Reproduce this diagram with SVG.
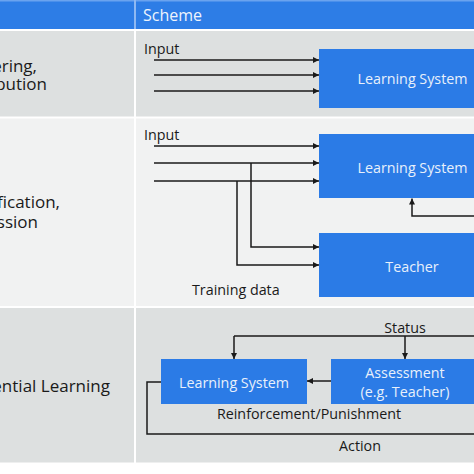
<svg xmlns="http://www.w3.org/2000/svg" width="474" height="474" viewBox="0 0 474 474">
<style>
text{font-family:"Open Sans","Noto Sans","DejaVu Sans",sans-serif;font-size:14.3px;fill:#1a1a1a}
.lc{font-size:17px;text-anchor:end}
.box{fill:#2b7be6}
.bt{fill:#e8f0fb;text-anchor:middle}
.ln{fill:none;stroke:#1a1a1a;stroke-width:1.5}
.ar{marker-end:url(#ah)}
.row1{fill:#dde0e0}
.row2{fill:#f1f2f2}
</style>
<defs>
<marker id="ah" viewBox="0 0 8 8" refX="8" refY="4" markerWidth="6" markerHeight="6" markerUnits="userSpaceOnUse" orient="auto">
<path d="M0,0L8,4L0,8Z" fill="#1a1a1a"/>
</marker>
</defs>
<rect x="0" y="0" width="474" height="474" fill="#ffffff"/>
<g id="table">
<rect x="0" y="0" width="474" height="29" fill="#2d7de6"/>
<rect x="0" y="0" width="474" height="1.5" fill="#6aa3ef"/>
<rect x="0" y="31" width="134" height="85.5" class="row1"/>
<rect x="136" y="31" width="338" height="85.5" class="row1"/>
<rect x="0" y="118.5" width="134" height="187.5" class="row2"/>
<rect x="136" y="118.5" width="338" height="187.5" class="row2"/>
<rect x="0" y="308" width="134" height="154.5" class="row1"/>
<rect x="136" y="308" width="338" height="154.5" class="row1"/>
<rect x="134" y="0" width="2" height="29" fill="#8fb9f2"/>
<text x="143" y="21" style="fill:#eef4fd;font-size:16px">Scheme</text>
<text class="lc" x="37" y="72">ering,</text>
<text class="lc" x="47" y="90">bution</text>
<text class="lc" x="60" y="208">fication,</text>
<text class="lc" x="38" y="228">ssion</text>
<text class="lc" x="110" y="391.5">ential Learning</text>
</g>
<g id="connectors">
<path class="ln ar" d="M154,60H319"/>
<path class="ln ar" d="M154,75H319"/>
<path class="ln ar" d="M154,91H319"/>
<path class="ln ar" d="M154,146H319"/>
<path class="ln ar" d="M154,163H319"/>
<path class="ln ar" d="M154,181H319"/>
<path class="ln ar" d="M251,163V247H319"/>
<path class="ln ar" d="M237,181V265H319"/>
<path class="ln ar" d="M474,216H412V198.5"/>
<path class="ln" d="M234,336H474"/>
<path class="ln ar" d="M234,336V359"/>
<path class="ln ar" d="M405,336V359"/>
<path class="ln ar" d="M331,381H307"/>
<path class="ln" d="M161,382H147V434H474"/>
</g>
<g id="labels">
<text x="144" y="54">Input</text>
<text x="144" y="140">Input</text>
<text x="192" y="294.5">Training data</text>
<text x="405" y="333" text-anchor="middle">Status</text>
<text x="309" y="419" text-anchor="middle">Reinforcement/Punishment</text>
<text x="360" y="450.5" text-anchor="middle">Action</text>
</g>
<g id="ls1">
<rect class="box" x="319" y="49" width="160" height="59"/>
<text class="bt" x="412.5" y="84">Learning System</text>
</g>
<g id="ls2">
<rect class="box" x="319" y="134" width="160" height="64"/>
<text class="bt" x="412.5" y="173">Learning System</text>
</g>
<g id="teacher">
<rect class="box" x="319" y="233" width="160" height="64"/>
<text class="bt" x="412" y="271.5">Teacher</text>
</g>
<g id="ls3">
<rect class="box" x="161" y="359" width="146" height="45"/>
<text class="bt" x="234" y="388">Learning System</text>
</g>
<g id="assessment">
<rect class="box" x="331" y="359" width="148" height="45"/>
<text class="bt" x="405" y="377.5">Assessment</text>
<text class="bt" x="405" y="396.5">(e.g. Teacher)</text>
</g>
</svg>
